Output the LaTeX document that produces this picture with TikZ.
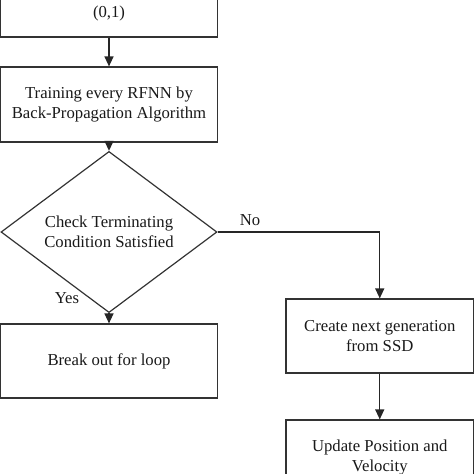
\documentclass[tikz,border=0pt]{standalone}
\usepackage{fontspec}
\setmainfont{Liberation Serif}
\usetikzlibrary{shapes.geometric,arrows.meta}
\begin{document}
\begin{tikzpicture}[x=1pt,y=-1pt,
  txt/.style={text=black!90, font=\fontsize{16.7}{20}\selectfont, align=center},
  box/.style={txt, draw=black!80, line width=1.2pt, rectangle, inner sep=0pt},
  dia/.style={txt, draw=black!80, line width=1.2pt, diamond, inner sep=0pt, minimum width=216pt, minimum height=121pt},
  arr/.style={draw=black!85, line width=1.3pt, -{Triangle[length=10pt,width=9pt]}},
  lbl/.style={txt, inner sep=0pt}]
\useasboundingbox (0,0) rectangle (474,474);
\begin{scope}
\clip (0,0) rectangle (474,474);
\node[box, minimum width=217pt, minimum height=48pt] (b1) at (109,13) {(0,1)};
\node[box, minimum width=217pt, minimum height=75pt] (b2) at (109,104.5) {Training every RFNN by\\Back-Propagation Algorithm};
\node[dia] (d) at (109,232) {Check Terminating\\Condition Satisfied};
\node[box, minimum width=217pt, minimum height=74pt] (b5) at (109,361) {Break out for loop};
\node[box, minimum width=187.5pt, minimum height=74pt] (b3) at (379.75,336) {Create next generation\\from SSD};
\node[box, minimum width=187.5pt, minimum height=76pt] (b4) at (379.75,458) {Update Position and\\Velocity};
\node[lbl] (no) at (250,220) {No};
\node[lbl] (yes) at (67,298) {Yes};
\draw[arr] (b1.south) -- (b2.north);
\draw[arr] (b2.south) -- (d.north);
\draw[arr] (d.south) -- (b5.north);
\draw[arr] (d.east) -| (b3.north);
\draw[arr] (b3.south) -- (b4.north);
\end{scope}
\end{tikzpicture}
\end{document}
